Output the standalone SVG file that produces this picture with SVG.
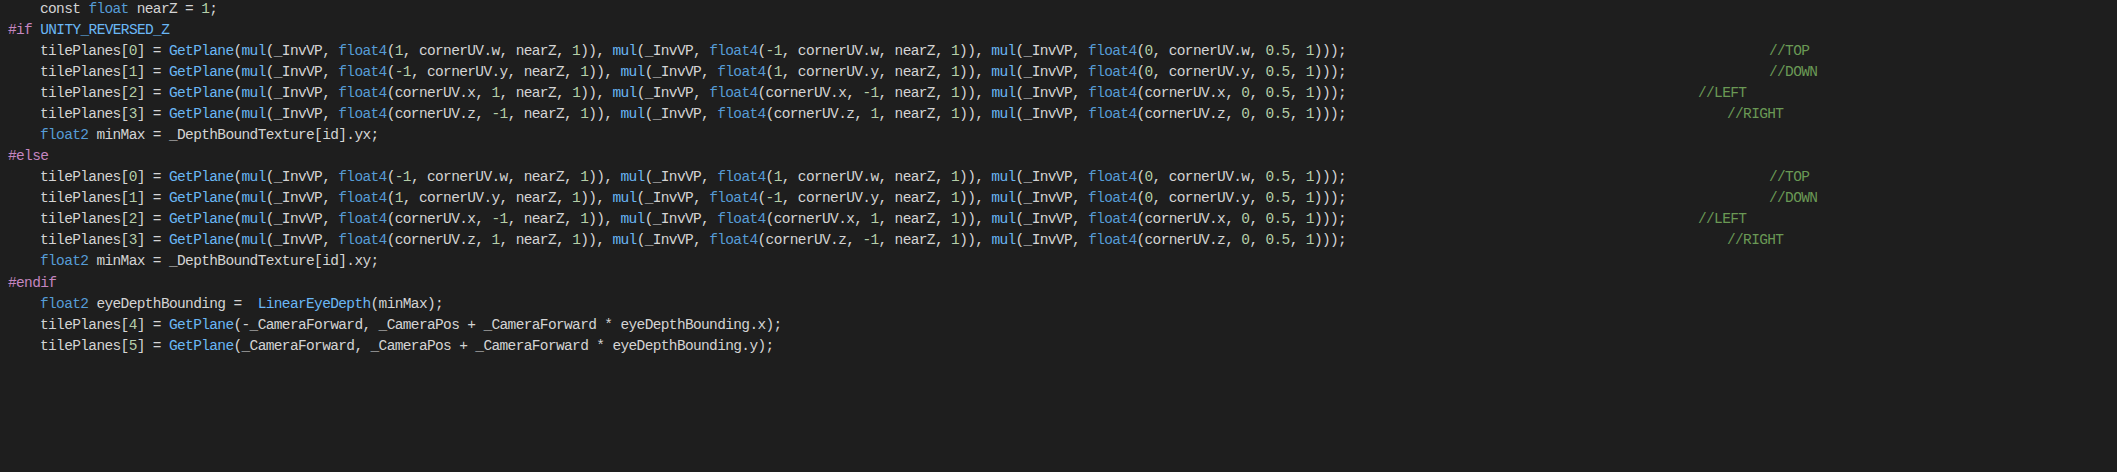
<svg xmlns="http://www.w3.org/2000/svg" width="2117" height="472" viewBox="0 0 2117 472">
<style>
text{font-family:"Liberation Mono","DejaVu Sans Mono",monospace;font-size:14.5px;letter-spacing:-0.64px;fill:#d4d4d4;white-space:pre}
.k{fill:#569cd6}.f{fill:#6ab7f5}.n{fill:#b5cea8}.p{fill:#c586c0}.c{fill:#6a9955}.m{fill:#6ab7f5}
</style>
<rect width="2117" height="472" fill="#1e1e1e"/>
<g id="code">
<text x="40" y="13" xml:space="preserve">const <tspan class="k">float</tspan> nearZ = <tspan class="n">1</tspan>;</text>
<text x="8" y="34" xml:space="preserve"><tspan class="p">#if</tspan> <tspan class="m">UNITY_REVERSED_Z</tspan></text>
<text x="40" y="55" xml:space="preserve">tilePlanes[<tspan class="n">0</tspan>] = <tspan class="f">GetPlane</tspan>(<tspan class="f">mul</tspan>(_InvVP, <tspan class="k">float4</tspan>(<tspan class="n">1</tspan>, cornerUV.w, nearZ, <tspan class="n">1</tspan>)), <tspan class="f">mul</tspan>(_InvVP, <tspan class="k">float4</tspan>(<tspan class="n">-1</tspan>, cornerUV.w, nearZ, <tspan class="n">1</tspan>)), <tspan class="f">mul</tspan>(_InvVP, <tspan class="k">float4</tspan>(<tspan class="n">0</tspan>, cornerUV.w, <tspan class="n">0.5</tspan>, <tspan class="n">1</tspan>)));</text>
<text x="1769" y="55" class="c">//TOP</text>
<text x="40" y="76" xml:space="preserve">tilePlanes[<tspan class="n">1</tspan>] = <tspan class="f">GetPlane</tspan>(<tspan class="f">mul</tspan>(_InvVP, <tspan class="k">float4</tspan>(<tspan class="n">-1</tspan>, cornerUV.y, nearZ, <tspan class="n">1</tspan>)), <tspan class="f">mul</tspan>(_InvVP, <tspan class="k">float4</tspan>(<tspan class="n">1</tspan>, cornerUV.y, nearZ, <tspan class="n">1</tspan>)), <tspan class="f">mul</tspan>(_InvVP, <tspan class="k">float4</tspan>(<tspan class="n">0</tspan>, cornerUV.y, <tspan class="n">0.5</tspan>, <tspan class="n">1</tspan>)));</text>
<text x="1769" y="76" class="c">//DOWN</text>
<text x="40" y="97" xml:space="preserve">tilePlanes[<tspan class="n">2</tspan>] = <tspan class="f">GetPlane</tspan>(<tspan class="f">mul</tspan>(_InvVP, <tspan class="k">float4</tspan>(cornerUV.x, <tspan class="n">1</tspan>, nearZ, <tspan class="n">1</tspan>)), <tspan class="f">mul</tspan>(_InvVP, <tspan class="k">float4</tspan>(cornerUV.x, <tspan class="n">-1</tspan>, nearZ, <tspan class="n">1</tspan>)), <tspan class="f">mul</tspan>(_InvVP, <tspan class="k">float4</tspan>(cornerUV.x, <tspan class="n">0</tspan>, <tspan class="n">0.5</tspan>, <tspan class="n">1</tspan>)));</text>
<text x="1698" y="97" class="c">//LEFT</text>
<text x="40" y="118" xml:space="preserve">tilePlanes[<tspan class="n">3</tspan>] = <tspan class="f">GetPlane</tspan>(<tspan class="f">mul</tspan>(_InvVP, <tspan class="k">float4</tspan>(cornerUV.z, <tspan class="n">-1</tspan>, nearZ, <tspan class="n">1</tspan>)), <tspan class="f">mul</tspan>(_InvVP, <tspan class="k">float4</tspan>(cornerUV.z, <tspan class="n">1</tspan>, nearZ, <tspan class="n">1</tspan>)), <tspan class="f">mul</tspan>(_InvVP, <tspan class="k">float4</tspan>(cornerUV.z, <tspan class="n">0</tspan>, <tspan class="n">0.5</tspan>, <tspan class="n">1</tspan>)));</text>
<text x="1727" y="118" class="c">//RIGHT</text>
<text x="40" y="139" xml:space="preserve"><tspan class="k">float2</tspan> minMax = _DepthBoundTexture[id].yx;</text>
<text x="8" y="160" class="p">#else</text>
<text x="40" y="181" xml:space="preserve">tilePlanes[<tspan class="n">0</tspan>] = <tspan class="f">GetPlane</tspan>(<tspan class="f">mul</tspan>(_InvVP, <tspan class="k">float4</tspan>(<tspan class="n">-1</tspan>, cornerUV.w, nearZ, <tspan class="n">1</tspan>)), <tspan class="f">mul</tspan>(_InvVP, <tspan class="k">float4</tspan>(<tspan class="n">1</tspan>, cornerUV.w, nearZ, <tspan class="n">1</tspan>)), <tspan class="f">mul</tspan>(_InvVP, <tspan class="k">float4</tspan>(<tspan class="n">0</tspan>, cornerUV.w, <tspan class="n">0.5</tspan>, <tspan class="n">1</tspan>)));</text>
<text x="1769" y="181" class="c">//TOP</text>
<text x="40" y="202" xml:space="preserve">tilePlanes[<tspan class="n">1</tspan>] = <tspan class="f">GetPlane</tspan>(<tspan class="f">mul</tspan>(_InvVP, <tspan class="k">float4</tspan>(<tspan class="n">1</tspan>, cornerUV.y, nearZ, <tspan class="n">1</tspan>)), <tspan class="f">mul</tspan>(_InvVP, <tspan class="k">float4</tspan>(<tspan class="n">-1</tspan>, cornerUV.y, nearZ, <tspan class="n">1</tspan>)), <tspan class="f">mul</tspan>(_InvVP, <tspan class="k">float4</tspan>(<tspan class="n">0</tspan>, cornerUV.y, <tspan class="n">0.5</tspan>, <tspan class="n">1</tspan>)));</text>
<text x="1769" y="202" class="c">//DOWN</text>
<text x="40" y="223" xml:space="preserve">tilePlanes[<tspan class="n">2</tspan>] = <tspan class="f">GetPlane</tspan>(<tspan class="f">mul</tspan>(_InvVP, <tspan class="k">float4</tspan>(cornerUV.x, <tspan class="n">-1</tspan>, nearZ, <tspan class="n">1</tspan>)), <tspan class="f">mul</tspan>(_InvVP, <tspan class="k">float4</tspan>(cornerUV.x, <tspan class="n">1</tspan>, nearZ, <tspan class="n">1</tspan>)), <tspan class="f">mul</tspan>(_InvVP, <tspan class="k">float4</tspan>(cornerUV.x, <tspan class="n">0</tspan>, <tspan class="n">0.5</tspan>, <tspan class="n">1</tspan>)));</text>
<text x="1698" y="223" class="c">//LEFT</text>
<text x="40" y="244" xml:space="preserve">tilePlanes[<tspan class="n">3</tspan>] = <tspan class="f">GetPlane</tspan>(<tspan class="f">mul</tspan>(_InvVP, <tspan class="k">float4</tspan>(cornerUV.z, <tspan class="n">1</tspan>, nearZ, <tspan class="n">1</tspan>)), <tspan class="f">mul</tspan>(_InvVP, <tspan class="k">float4</tspan>(cornerUV.z, <tspan class="n">-1</tspan>, nearZ, <tspan class="n">1</tspan>)), <tspan class="f">mul</tspan>(_InvVP, <tspan class="k">float4</tspan>(cornerUV.z, <tspan class="n">0</tspan>, <tspan class="n">0.5</tspan>, <tspan class="n">1</tspan>)));</text>
<text x="1727" y="244" class="c">//RIGHT</text>
<text x="40" y="265" xml:space="preserve"><tspan class="k">float2</tspan> minMax = _DepthBoundTexture[id].xy;</text>
<text x="8" y="287" class="p">#endif</text>
<text x="40" y="308" xml:space="preserve"><tspan class="k">float2</tspan> eyeDepthBounding =  <tspan class="f">LinearEyeDepth</tspan>(minMax);</text>
<text x="40" y="329" xml:space="preserve">tilePlanes[<tspan class="n">4</tspan>] = <tspan class="f">GetPlane</tspan>(-_CameraForward, _CameraPos + _CameraForward * eyeDepthBounding.x);</text>
<text x="40" y="350" xml:space="preserve">tilePlanes[<tspan class="n">5</tspan>] = <tspan class="f">GetPlane</tspan>(_CameraForward, _CameraPos + _CameraForward * eyeDepthBounding.y);</text>
</g>
</svg>
